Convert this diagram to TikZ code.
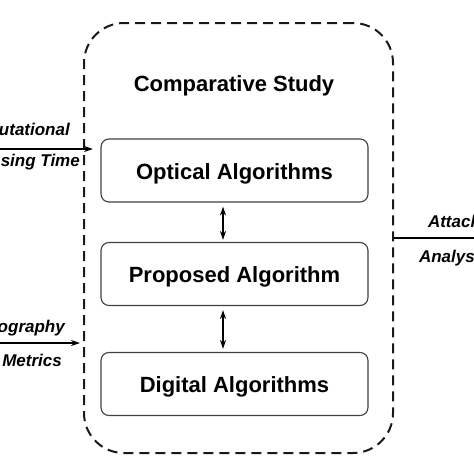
\documentclass[tikz,border=0pt]{standalone}
\usepackage{fontspec}
\usepackage{xcolor}
\usetikzlibrary{arrows.meta}
\setmainfont{Liberation Sans}

\begin{document}
\begin{tikzpicture}[x=1pt,y=-1pt,>={Stealth[length=9pt,width=6pt]},
  algbox/.style={draw=black!75,line width=1.1pt,rounded corners=8pt,minimum width=267pt,minimum height=63pt,text height=22pt,text depth=5pt,font=\bfseries\fontsize{22}{26}\selectfont},
  sidelabel/.style={font=\bfseries\itshape\fontsize{17}{20}\selectfont,inner sep=0pt}]
\useasboundingbox (0,0) rectangle (474,474);
\clip (0,0) rectangle (474,474);
% outer study frame
\node[draw=black!90,line width=2pt,dash pattern=on 10pt off 6pt,rounded corners=40pt,minimum width=309pt,minimum height=430pt] (study) at (238.5,238) {};
\node[font=\bfseries\fontsize{22}{26}\selectfont] (title) at (234,86) {Comparative Study};
\node[algbox] (optical) at (234.5,170.5) {Optical Algorithms};
\node[algbox] (proposed) at (234.5,274) {Proposed Algorithm};
\node[algbox] (digital) at (234.5,384) {Digital Algorithms};
\draw[<->,line width=1.5pt] ([yshift=-4pt]optical.south -| 223,0) -- ([yshift=2pt]proposed.north -| 223,0);
\draw[<->,line width=1.5pt] ([yshift=-4pt]proposed.south -| 223,0) -- ([yshift=3pt]digital.north -| 223,0);
% inputs on the left
\coordinate (timein) at (-5,149);
\coordinate (timeend) at (93,149);
\draw[->,line width=1.6pt] (timein) -- (timeend);
\node[sidelabel,anchor=east] (comp) at (70,131) {Computational};
\node[sidelabel,anchor=east] (proc) at (80,162) {Processing Time};
\coordinate (metricin) at (-5,343);
\coordinate (metricend) at (80,343);
\draw[->,line width=1.6pt] (metricin) -- (metricend);
\node[sidelabel,anchor=east] (crypt) at (65,328) {Cryptography};
\node[sidelabel,anchor=east] (metr) at (62,360) {Metrics};
% output on the right
\coordinate (attackout) at (480,238);
\draw[line width=1.6pt] (study.east) -- (attackout);
\node[sidelabel] (attack) at (454,221) {Attack};
\node[sidelabel] (anal) at (454,258) {Analysis};
\end{tikzpicture}
\end{document}
